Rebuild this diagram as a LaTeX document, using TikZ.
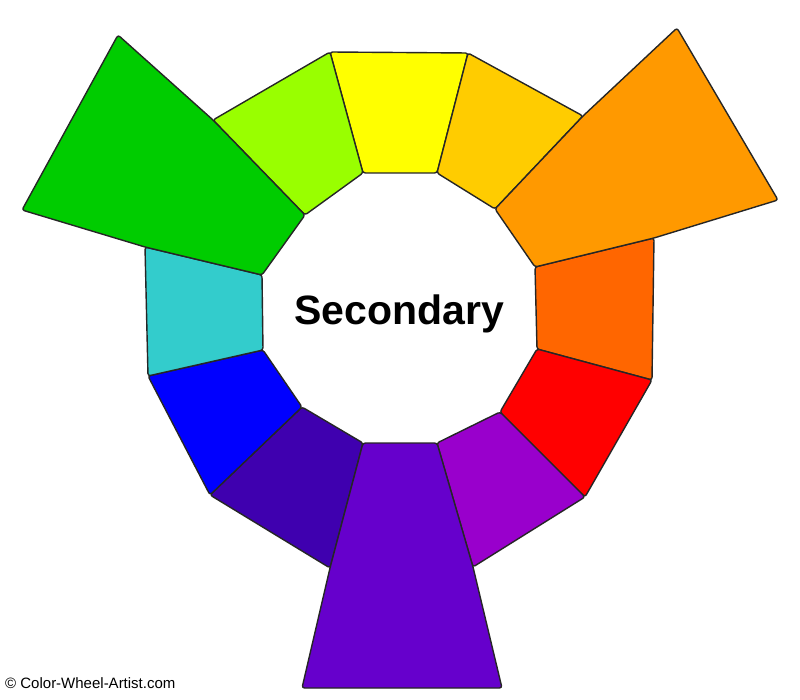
\documentclass[tikz,border=0pt]{standalone}
\usepackage{fontspec}
\setmainfont{Liberation Sans}

\definecolor{cYellow}{HTML}{FFFF00}
\definecolor{cYellowOrange}{HTML}{FFCC00}
\definecolor{cOrange}{HTML}{FF9900}
\definecolor{cRedOrange}{HTML}{FF6600}
\definecolor{cRed}{HTML}{FF0000}
\definecolor{cRedViolet}{HTML}{9900CC}
\definecolor{cViolet}{HTML}{6600CC}
\definecolor{cBlueViolet}{HTML}{3F00AF}
\definecolor{cBlue}{HTML}{0000FF}
\definecolor{cBlueGreen}{HTML}{33CCCC}
\definecolor{cGreen}{HTML}{00CC00}
\definecolor{cYellowGreen}{HTML}{99FF00}

\begin{document}
\begin{tikzpicture}[x=1pt, y=-1pt,
		segment/.style={draw=black!85, line width=1.4pt, rounded corners=2.5pt, line join=round}]
		
		\useasboundingbox (0,0) rectangle (800,700);
		
		% Titik sudut dalam (lingkaran putih)
		\coordinate (i1) at (363,173);
		\coordinate (i2) at (437,173);
		\coordinate (i3) at (495,209);
		\coordinate (i4) at (535,267);
		\coordinate (i5) at (537,349);
		\coordinate (i6) at (500,412);
		\coordinate (i7) at (437,443);
		\coordinate (i8) at (363,443);
		\coordinate (i9) at (302,407);
		\coordinate (i10) at (263,350);
		\coordinate (i11) at (262,275);
		\coordinate (i12) at (305,215);
		
		% Titik sudut luar
		\coordinate (o1) at (330,52);
		\coordinate (o2) at (468,53);
		\coordinate (o3) at (583,116);
		\coordinate (o4) at (654,238);
		\coordinate (o5) at (652,380);
		\coordinate (o6) at (585,497);
		\coordinate (o7) at (473,567);
		\coordinate (o8) at (330,568);
		\coordinate (o9) at (210,495);
		\coordinate (o10) at (148,376);
		\coordinate (o11) at (145,247);
		\coordinate (o12) at (213,120);
		
		% Ujung warna sekunder
		\coordinate (g1) at (118,35);
		\coordinate (g2) at (22,210);
		\coordinate (r1) at (677,28);
		\coordinate (r2) at (778,200);
		\coordinate (v1) at (502,688);
		\coordinate (v2) at (302,688);
		
		% Warna biasa
		\filldraw[segment, fill=cYellow] (i1) -- (o1) -- (o2) -- (i2) -- cycle;
		\filldraw[segment, fill=cYellowOrange] (i2) -- (o2) -- (o3) -- (i3) -- cycle;
		\filldraw[segment, fill=cRedOrange] (i4) -- (o4) -- (o5) -- (i5) -- cycle;
		\filldraw[segment, fill=cRed] (i5) -- (o5) -- (o6) -- (i6) -- cycle;
		\filldraw[segment, fill=cRedViolet] (i6) -- (o6) -- (o7) -- (i7) -- cycle;
		\filldraw[segment, fill=cBlueViolet] (i8) -- (o8) -- (o9) -- (i9) -- cycle;
		\filldraw[segment, fill=cBlue] (i9) -- (o9) -- (o10) -- (i10) -- cycle;
		\filldraw[segment, fill=cBlueGreen] (i10) -- (o10) -- (o11) -- (i11) -- cycle;
		\filldraw[segment, fill=cYellowGreen] (i12) -- (o12) -- (o1) -- (i1) -- cycle;
		
		% Warna sekunder (lebih panjang)
		\filldraw[segment, fill=cOrange] (i3) -- (o3) -- (r1) -- (r2) -- (o4) -- (i4) -- cycle;
		\filldraw[segment, fill=cViolet] (i7) -- (o7) -- (v1) -- (v2) -- (o8) -- (i8) -- cycle;
		\filldraw[segment, fill=cGreen] (i11) -- (o11) -- (g2) -- (g1) -- (o12) -- (i12) -- cycle;
		
		% Judul
		\node[anchor=base, font=\bfseries\fontsize{41}{49}\selectfont] (title) at (399,325) {Secondary};
		
		% Hak cipta
		\node[anchor=base west, inner sep=0pt, font=\fontsize{15}{18}\selectfont] (credit) at (5,688) {© Color-Wheel-Artist.com};
		
	\end{tikzpicture}
\end{document}
